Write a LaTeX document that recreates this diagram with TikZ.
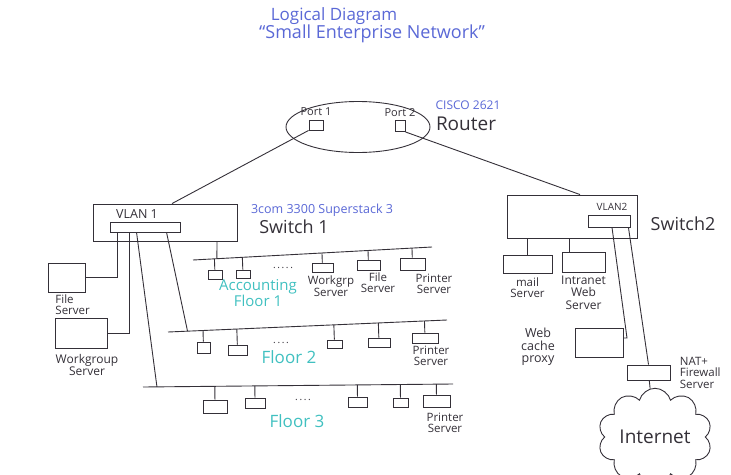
\documentclass[tikz,border=0pt]{standalone}
\usepackage{fontspec}
\setmainfont{Open Sans}
\usepackage{xcolor}
\usetikzlibrary{positioning,shapes.geometric,shapes.symbols,calc}
\definecolor{pen}{RGB}{52,48,56}
\definecolor{penblue}{RGB}{90,104,214}
\definecolor{penteal}{RGB}{64,192,192}

\begin{document}
\begin{tikzpicture}[x=1pt,y=-1pt,line width=0.9pt,color=pen,
	dev/.style 2 args={draw,rectangle,inner sep=0pt,minimum width=#1pt,minimum height=#2pt},
	note/.style={font=\fontsize{11.5}{11}\selectfont,align=center,inner sep=0pt},
	big/.style={font=\fontsize{18}{20}\selectfont,inner sep=0pt},
	bluenote/.style={text=penblue,font=\fontsize{12.5}{13}\selectfont,inner sep=0pt},
	floornote/.style={text=penteal,font=\fontsize{15}{14}\selectfont,align=center,inner sep=0pt}]
	\useasboundingbox (0,0) rectangle (731,474);

	% title
	\node[bluenote,font=\fontsize{17}{17}\selectfont] (t1) at (334,16) {Logical Diagram};
	\node[bluenote,font=\fontsize{18}{18}\selectfont] (t2) at (372,34) {``Small Enterprise Network''};

	% router
	\node[draw,ellipse,minimum width=144pt,minimum height=51pt] (rt) at (358,127) {};
	\node[dev={14}{10}] (p1) at (316,125) {};
	\node[dev={10}{11}] (p2) at (400,126) {};
	\node[note,font=\fontsize{11}{11}\selectfont] (p1txt) [above=3pt of p1] {Port 1};
	\node[note,font=\fontsize{11}{11}\selectfont] (p2txt) [above=3pt of p2] {Port 2};
	\node[bluenote,font=\fontsize{12}{12}\selectfont] (cisco) at (468,105) {CISCO 2621};
	\node[big,font=\fontsize{19}{20}\selectfont] (rttxt) at (466,124) {Router};

	% switches
	\node[dev={144}{37}] (sw1) at (165,222.5) {};
	\node[dev={70}{10}] (vl1) at (145,227) {};
	\node[note,font=\fontsize{12.5}{12}\selectfont] (vl1txt) at (137,214) {VLAN 1};
	\node[bluenote] (com) at (322,210) {3com 3300 Superstack 3};
	\node[big] (sw1txt) at (294,227) {Switch 1};

	\node[dev={130}{43}] (sw2) at (572,216.5) {};
	\node[dev={42}{12}] (vl2) at (609,221) {};
	\node[note,font=\fontsize{10}{10}\selectfont] (vl2txt) at (612,207) {VLAN2};
	\node[big] (sw2txt) at (683,224) {Switch2};

	% servers on switch 1
	\node[dev={37}{29}] (fs) at (66.5,277.5) {};
	\node[note,align=left,anchor=north west] (fstxt) at (55,294) {File\\Server};
	\node[dev={52}{30}] (ws) at (81,333) {};
	\node[note,font=\fontsize{12}{12}\selectfont] (wstxt) at (87,365) {Workgroup\\Server};

	% floor buses
	\coordinate (b1w) at (193,260); \coordinate (b1e) at (432,247);
	\coordinate (b2w) at (168,332); \coordinate (b2e) at (447,320);
	\coordinate (b3w) at (143,387); \coordinate (b3e) at (453,384);
	\draw (b1w) -- (b1e);
	\draw (b2w) -- (b2e);
	\draw (b3w) -- (b3e);

	% floor 1
	\node[dev={14}{9}] (f1a) at (215,274.5) {};
	\node[dev={14}{8}] (f1b) at (243,274) {};
	\node[dev={21}{9}] (f1c) at (322.5,267.5) {};
	\node[dev={23}{10}] (f1d) at (368.5,265) {};
	\node[dev={25}{12}] (f1e) at (412.5,264) {};
	\node[note,font=\fontsize{10}{10}\selectfont] (f1dots) at (283,268) {.\,.\,.\,.\,.};
	\node[note] (f1ctxt) at (331,286) {Workgrp\\Server};
	\node[note] (f1dtxt) at (378,283) {File\\Server};
	\node[note] (f1etxt) at (434,284) {Printer\\Server};
	\node[floornote] (fl1) at (258,293) {Accounting\\Floor 1};

	% floor 2
	\node[dev={13}{11}] (f2a) at (203.5,347.5) {};
	\node[dev={19}{10}] (f2b) at (237.5,350) {};
	\node[dev={15}{8}] (f2c) at (334.5,344) {};
	\node[dev={22}{9}] (f2d) at (379,342.5) {};
	\node[dev={26}{10}] (f2e) at (425,338) {};
	\node[note,font=\fontsize{10}{10}\selectfont] (f2dots) at (281,343) {.\,.\,.\,.};
	\node[note] (f2etxt) at (431,356) {Printer\\Server};
	\node[floornote,font=\fontsize{17}{17}\selectfont] (fl2) at (289,357) {Floor 2};

	% floor 3
	\node[dev={24}{13}] (f3a) at (215,406.5) {};
	\node[dev={20}{10}] (f3b) at (255,403) {};
	\node[dev={19}{10}] (f3c) at (357.5,402) {};
	\node[dev={15}{9}] (f3d) at (400.5,402.5) {};
	\node[dev={27}{12}] (f3e) at (436.5,401) {};
	\node[note,font=\fontsize{10}{10}\selectfont] (f3dots) at (303,400) {.\,.\,.\,.};
	\node[note] (f3etxt) at (445,423) {Printer\\Server};
	\node[floornote,font=\fontsize{17}{17}\selectfont] (fl3) at (297,421) {Floor 3};

	\foreach \d in {f1a,f1b,f1c,f1d,f1e}
		\draw (\d) -- ($(b1w)!(\d.north)!(b1e)$);
	\foreach \d in {f2a,f2b,f2c,f2d,f2e}
		\draw (\d) -- ($(b2w)!(\d.north)!(b2e)$);
	\foreach \d in {f3a,f3b,f3c,f3d,f3e}
		\draw (\d) -- ($(b3w)!(\d.north)!(b3e)$);

	% servers on switch 2
	\node[dev={49}{18}] (mail) at (527.5,264) {};
	\node[note] (mailtxt) [below=4pt of mail] {mail\\Server};
	\node[dev={43}{20}] (intra) at (583.5,262) {};
	\node[note,font=\fontsize{12}{12.5}\selectfont] (intratxt) [below=3pt of intra] {Intranet\\Web\\Server};
	\node[dev={48}{29}] (cache) at (599,342.5) {};
	\node[note,font=\fontsize{12.5}{12.5}\selectfont] (cachetxt) at (538,347) {Web\\cache\\proxy};
	\node[dev={43}{15}] (nat) at (648.5,372.5) {};
	\node[note,align=left,font=\fontsize{11.5}{11.5}\selectfont] (nattxt) [right=9pt of nat] {NAT+\\Firewall\\Server};
	\node[draw,cloud,cloud puffs=10,aspect=1.3,minimum width=104pt,minimum height=70pt,
		font=\fontsize{19}{19}\selectfont,inner sep=0pt] (inet) at (655,437) {Internet};
	\coordinate (cbend) at (627,338);

	% links
	\draw (p1.south west) -- ([xshift=7pt]sw1.north);
	\draw (p2.south east) -- ([xshift=8pt]sw2.north);
	\draw ([xshift=8pt]vl1.south west) |- (fs.east);
	\draw ([xshift=20pt]vl1.south west) |- (ws.east);
	\draw ([xshift=27pt]vl1.south west) -- ($(b3w)!0.045!(b3e)$);
	\draw ([xshift=57pt]vl1.south west) -- ($(b2w)!0.07!(b2e)$);
	\draw ([xshift=52pt]sw1.south) -- ($(b1w)!0.1!(b1e)$);
	\draw (mail.north) -- (mail.north |- sw2.south);
	\draw ([xshift=-14pt]intra.north) -- ([xshift=-14pt]intra.north |- sw2.south);
	\draw ([xshift=3pt]vl2.south) -- (cbend) -- (cache.east |- cbend);
	\draw ([xshift=-2pt]vl2.south east) -- (nat.north);
	\draw (nat) -- (inet);
\end{tikzpicture}
\end{document}
